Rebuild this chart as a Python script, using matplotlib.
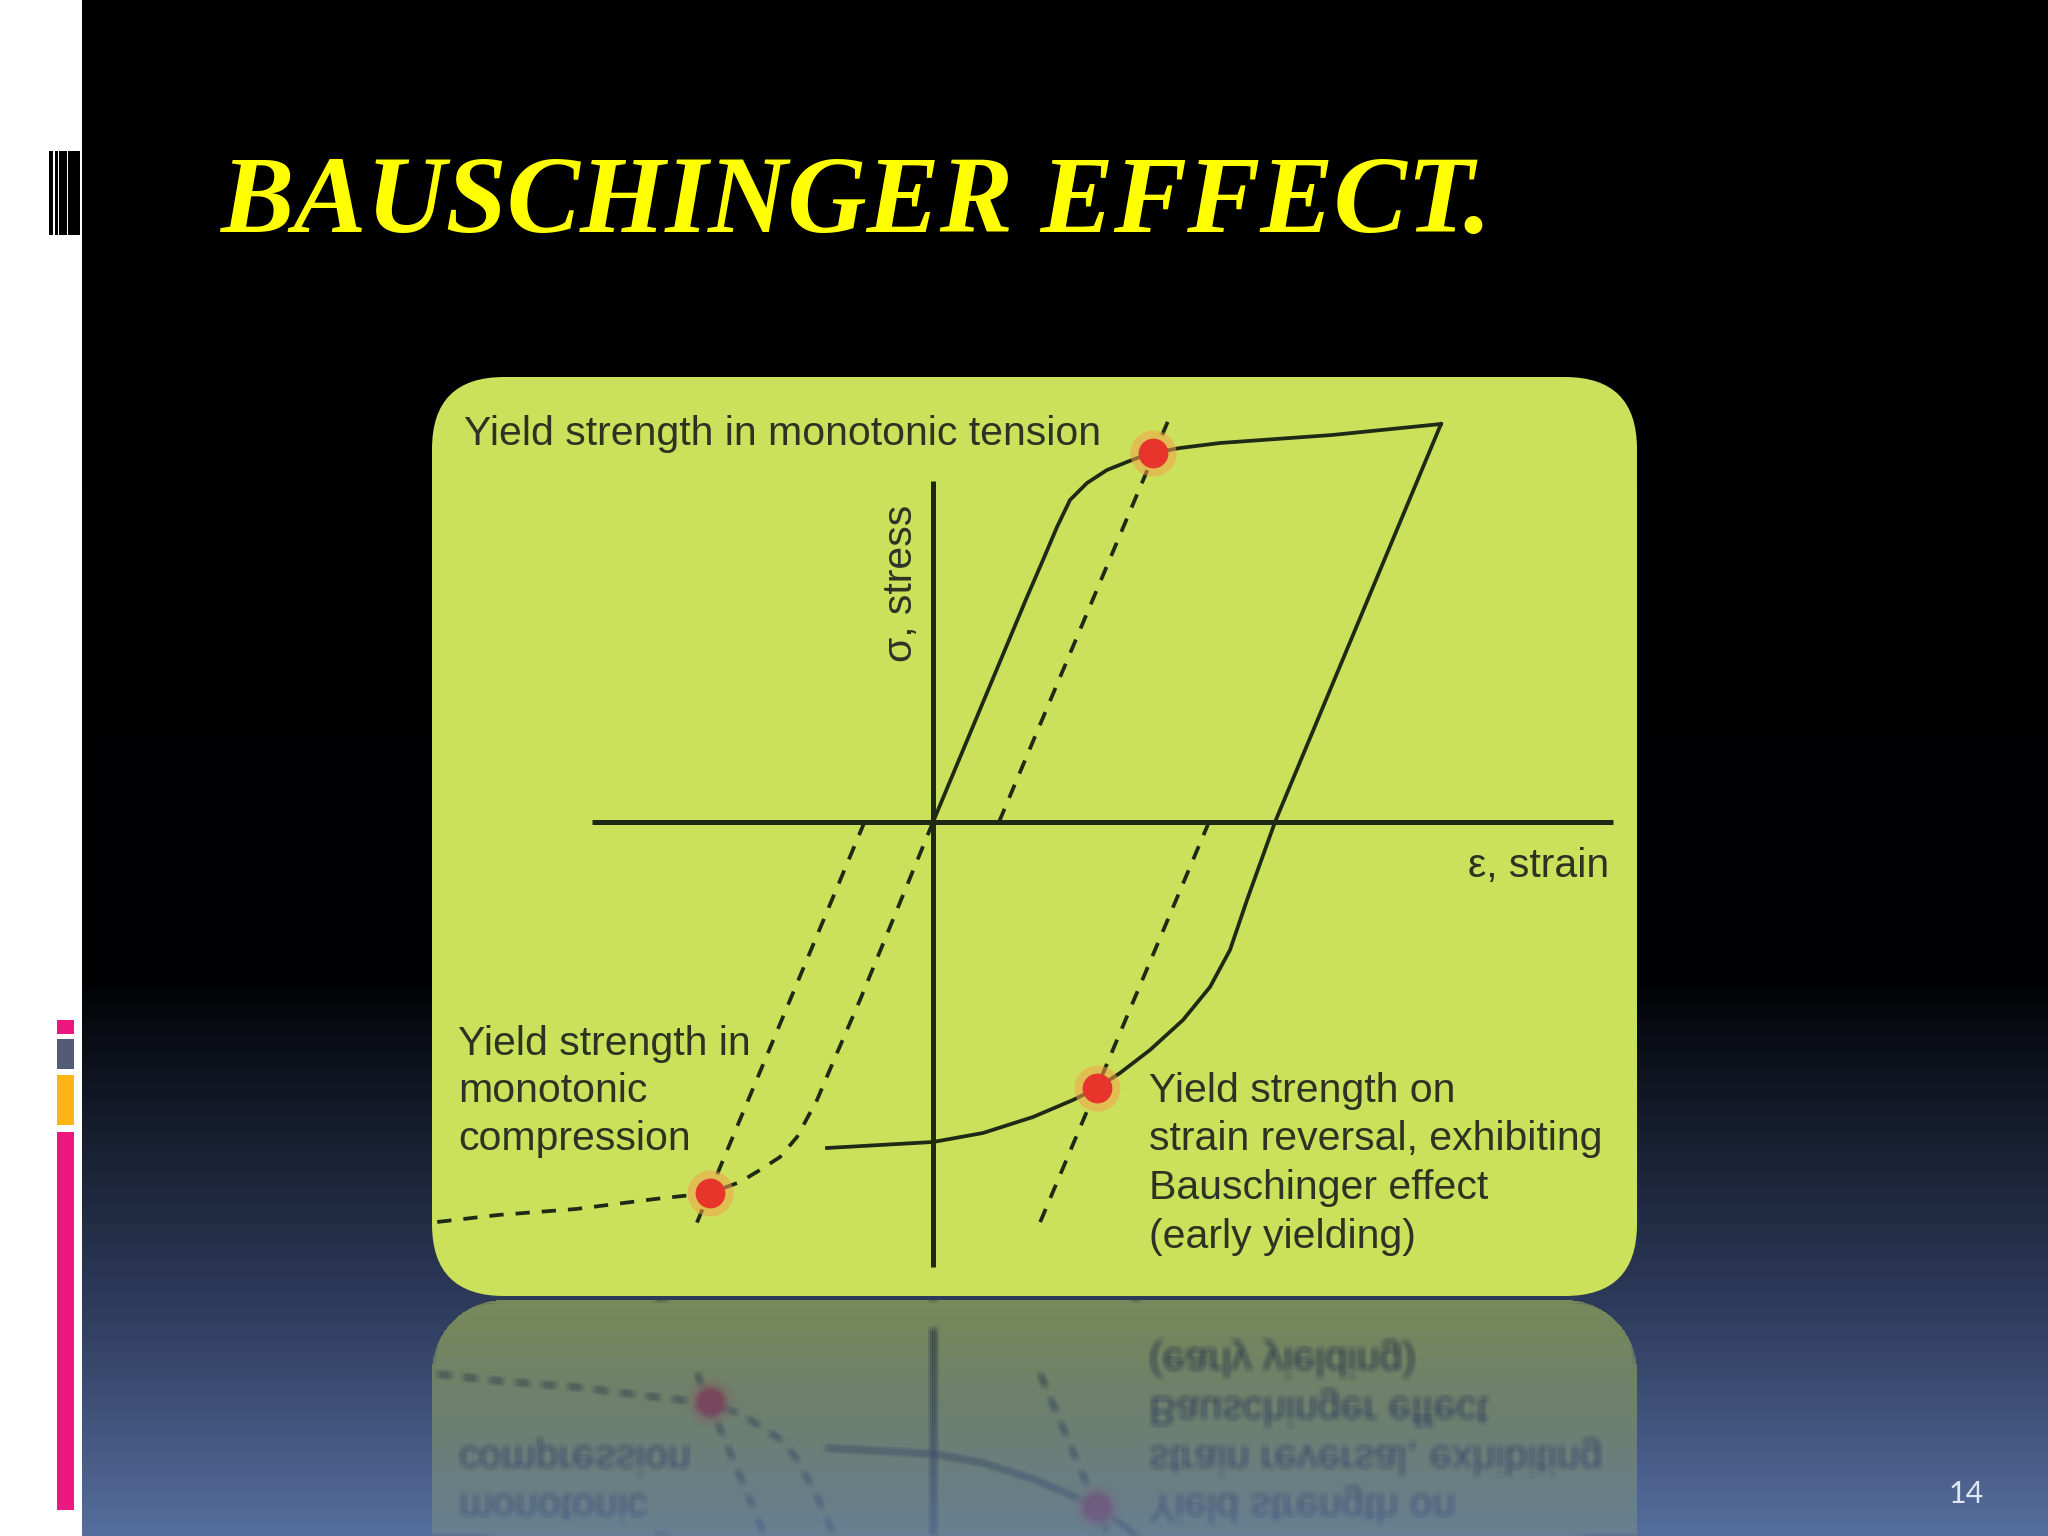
#! Python3
# Slide: the Bauschinger effect, stress-strain schematic on a rounded panel.

import numpy as np
import matplotlib.pyplot as plt
from matplotlib.patches import FancyBboxPatch, Rectangle

W, H, DPI = 2048, 1536, 100

# tension loading from the origin up to the turning point
load_strain = [0.0, 0.94, 1.10, 1.24, 1.37, 1.54, 1.74, 1.94, 2.07, 2.20, 2.47, 2.87, 3.99, 5.08]
load_stress = [0.0, 2.25, 2.62, 2.95, 3.22, 3.39, 3.52, 3.60, 3.65, 3.69, 3.74, 3.79, 3.87, 3.98]

# strain reversal (unloading then compression)
reverse_strain = [5.08, 3.42, 3.14, 2.97, 2.77, 2.50, 2.17, 1.87, 1.64, 1.40, 1.00, 0.50, 0.00, -1.06]
reverse_stress = [3.98, 0.0, -0.78, -1.28, -1.65, -1.98, -2.28, -2.51, -2.66, -2.78, -2.95, -3.11, -3.20, -3.26]

# monotonic compression (dashed)
comp_strain = [0.0, -0.73, -0.96, -1.16, -1.36, -1.53, -1.73, -1.93, -2.23, -2.78, -3.57, -4.35, -4.96]
comp_stress = [0.0, -1.78, -2.31, -2.78, -3.15, -3.35, -3.48, -3.60, -3.71, -3.77, -3.87, -3.93, -4.00]

# offset lines (dashed)
offset_tension_strain = [0.66, 2.38]
offset_tension_stress = [0.0, 4.08]
offset_comp_strain = [-0.685, -2.40]
offset_comp_stress = [0.0, -4.10]
offset_reverse_strain = [2.76, 1.03]
offset_reverse_stress = [0.0, -4.10]

# yield points
yield_strain = [2.20, -2.23, 1.64]
yield_stress = [3.69, -3.71, -2.66]

# axis extents of the diagram
strain_axis = [-3.41, 6.80]
stress_axis = [-4.45, 3.41]

INK = '#1f2a16'
TXT = '#2d3323'
PANEL = '#cbe15b'

fig = plt.figure(figsize=(W / DPI, H / DPI), dpi=DPI)

# background layer in pixel units
bg = fig.add_axes([0, 0, 1, 1])
bg.set_xlim(0, W)
bg.set_ylim(H, 0)
bg.axis('off')

stops_y = [0, 980, 1100, 1300, 1536]
stops_c = np.array([(0, 0, 0), (2, 2, 4), (18, 24, 38), (45, 58, 90), (86, 110, 158)]) / 255
rows = np.arange(H)
grad = np.stack([np.interp(rows, stops_y, stops_c[:, k]) for k in range(3)], axis=1)
bg.imshow(grad[:, None, :], extent=(82, W, H, 0), aspect='auto', zorder=0)

# left white strip, barcode and colour bars
bg.add_patch(Rectangle((0, 0), 82, H, fc='white', ec='none', zorder=1))
for x0, w in [(49, 3.5), (55, 3.3), (59.3, 7.4), (67.8, 12.4)]:
    bg.add_patch(Rectangle((x0, 151), w, 84, fc='black', ec='none', zorder=2))
for y0, h, c in [(1020, 14, '#ec1780'), (1039, 30, '#525c74'),
                 (1075, 50, '#fcb514'), (1132, 378, '#ec1780')]:
    bg.add_patch(Rectangle((57, y0), 17, h, fc=c, ec='none', zorder=2))

# rounded panel
panel = FancyBboxPatch((432, 377), 1205, 919, boxstyle='round,pad=0,rounding_size=72',
                       fc=PANEL, ec='none', zorder=2)
bg.add_patch(panel)

bg.text(220, 232, 'BAUSCHINGER EFFECT.', color='#ffff00', fontsize=79,
        fontfamily='Liberation Serif', fontweight='bold', fontstyle='italic',
        ha='left', va='baseline', zorder=3)
bg.text(1966, 1494, '14', color='#dde6f2', fontsize=22, fontfamily='Lato',
        ha='center', va='center', zorder=3)

# the diagram itself
ax = fig.add_axes([432 / W, (H - 1296) / H, 1205 / W, 919 / H])
ax.set_xlim(-5.01, 7.04)
ax.set_ylim(-4.74, 4.45)
ax.axis('off')
ax.patch.set_visible(False)

ax.plot(strain_axis, [0, 0], color=INK, lw=3.6, solid_capstyle='butt')
ax.plot([0, 0], stress_axis, color=INK, lw=3.6, solid_capstyle='butt')

ax.plot(load_strain, load_stress, color=INK, lw=2.7, solid_joinstyle='round')
ax.plot(reverse_strain, reverse_stress, color=INK, lw=2.7, solid_joinstyle='round')

dash = (0, (3.8, 3.2))
ax.plot(comp_strain, comp_stress, color=INK, lw=2.7, ls=dash)
ax.plot(offset_tension_strain, offset_tension_stress, color=INK, lw=2.7, ls=dash)
ax.plot(offset_comp_strain, offset_comp_stress, color=INK, lw=2.7, ls=dash)
ax.plot(offset_reverse_strain, offset_reverse_stress, color=INK, lw=2.7, ls=dash)

ax.scatter(yield_strain, yield_stress, s=1100, color='#f3a24a', alpha=0.55, lw=0, zorder=4)
ax.scatter(yield_strain, yield_stress, s=460, color='#e8352b', lw=0, zorder=5)

tkw = dict(color=TXT, fontsize=29.5, fontfamily='Liberation Sans')
ax.text(-4.69, 3.88, 'Yield strength in monotonic tension', ha='left', va='center', **tkw)
ax.text(-0.32, 2.39, 'σ, stress', rotation=90, ha='center', va='center', **tkw)
ax.text(6.76, -0.44, 'ε, strain', ha='right', va='center', **tkw)
ax.text(-4.75, -2.03, 'Yield strength in\nmonotonic\ncompression', ha='left', va='top',
        linespacing=1.31, **tkw)
ax.text(2.16, -2.50, 'Yield strength on\nstrain reversal, exhibiting\nBauschinger effect\n(early yielding)',
        ha='left', va='top', linespacing=1.35, **tkw)

# mirrored, fading reflection of the panel below it
fig.canvas.draw()
buf = np.asarray(fig.canvas.buffer_rgba())[..., :3].astype(float) / 255
n = H - 1300
crop = buf[377:1296, 432:1637][::-1][:n]
blur = sum(np.roll(np.roll(crop, dy, 0), dx, 1)
           for dy in (-3, -1, 1, 3) for dx in (-3, -1, 1, 3)) / 16

pw, r = 1205, 72
yy, xx = np.mgrid[0:n, 0:pw] + 0.5
ddx = np.maximum(np.maximum(r - xx, xx - (pw - r)), 0)
ddy = np.maximum(r - yy, 0)
mask = (ddx ** 2 + ddy ** 2 <= r ** 2).astype(float)
fade = np.linspace(0.48, 0.16, n)[:, None]
refl = np.dstack([blur, mask * fade])
bg.imshow(refl, extent=(432, 1637, H, 1300), aspect='auto', zorder=2.5)

fig.savefig('out.png', dpi=DPI)
